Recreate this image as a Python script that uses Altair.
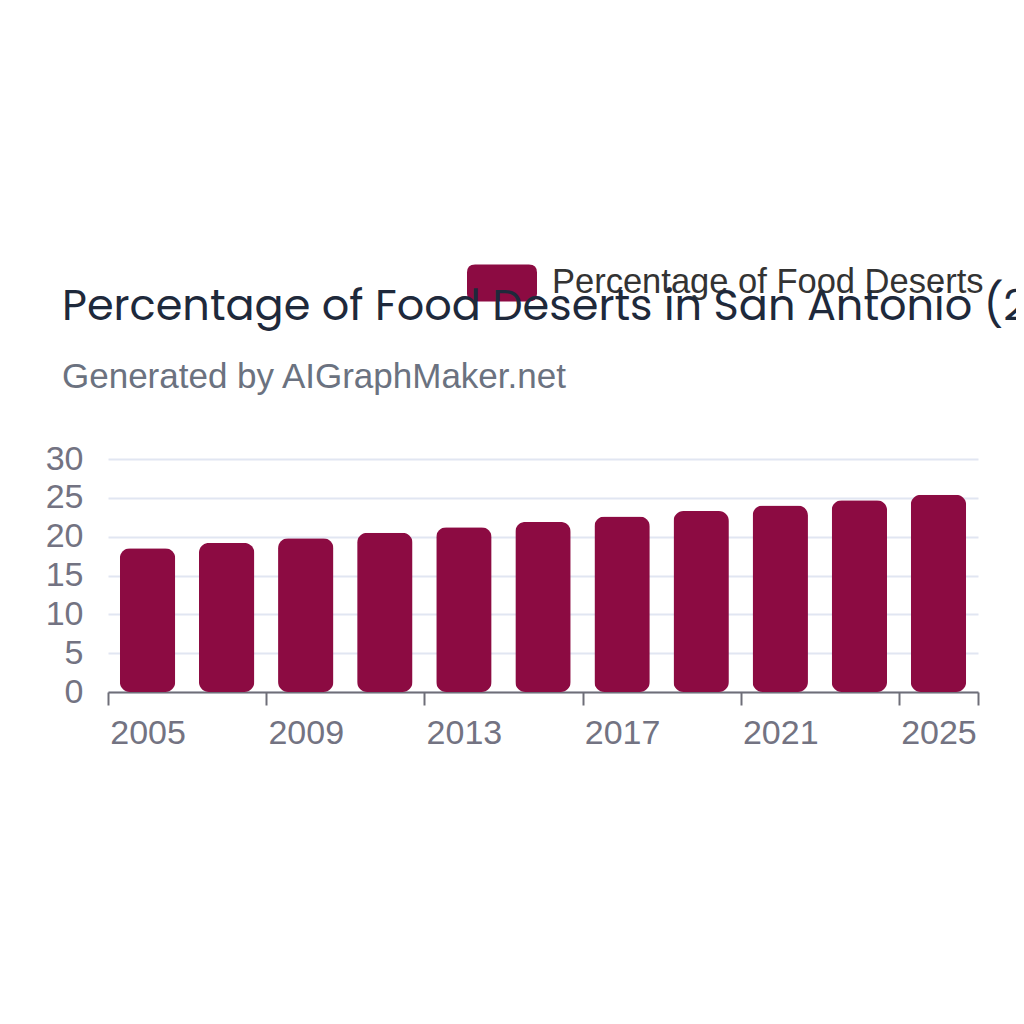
import altair as alt
import pandas as pd

# ---- data ----
years = [2005, 2007, 2009, 2011, 2013, 2015, 2017, 2019, 2021, 2023, 2025]
values = [18.5, 19.2, 19.8, 20.5, 21.2, 21.9, 22.6, 23.3, 24.0, 24.7, 25.4]
series_name = "Percentage of Food Deserts"
y_ticks = [0, 5, 10, 15, 20, 25, 30]
title_text = "Percentage of Food Deserts in San Antonio (2005-2025)"
subtitle_text = "Generated by AIGraphMaker.net"

df = pd.DataFrame({
    "year": years,
    "value": values,
    "series": [series_name] * len(years),
})

BAR = "#8C0B42"
AXIS_LINE = "#6e6e78"
LABEL = "#737382"

# rounded-rectangle legend swatch (unit box -1..1, wide and short)
legend_path = ("M-0.77,-0.53L0.77,-0.53Q1,-0.53 1,-0.3L1,0.3Q1,0.53 0.77,0.53"
               "L-0.77,0.53Q-1,0.53 -1,0.3L-1,-0.3Q-1,-0.53 -0.77,-0.53Z")

x_axis = alt.Axis(
    title=None,
    labelAngle=0,
    labelFont="Liberation Sans",
    labelFontSize=34,
    labelColor=LABEL,
    labelPadding=11,
    labelOverlap=False,
    labelExpr="(datum.value - 2005) % 4 == 0 ? datum.label : ''",
    tickBand="extent",
    tickSize=13,
    tickWidth=2,
    tickColor=AXIS_LINE,
    tickOpacity={
        "condition": {
            "test": "!isValid(datum.value) || datum.value == 2025 || (datum.value - 2007) % 4 == 0",
            "value": 1,
        },
        "value": 0,
    },
    domainColor=AXIS_LINE,
    domainWidth=2,
    grid=False,
)

y_axis = alt.Axis(
    title=None,
    values=y_ticks,
    labelFont="Liberation Sans",
    labelFontSize=34,
    labelColor=LABEL,
    labelPadding=25,
    ticks=False,
    tickSize=0,
    domain=False,
    grid=True,
    gridColor="#e1e6f2",
    gridWidth=2,
)

legend = alt.Legend(
    title=None,
    orient="none",
    legendX=359,
    legendY=-211,
    direction="horizontal",
    symbolType=legend_path,
    symbolSize=4900,
    symbolStrokeWidth=0,
    symbolOpacity=1,
    labelFont="Liberation Sans",
    labelFontSize=34.5,
    labelColor="#333333",
    labelOffset=15,
    labelLimit=1000,
    padding=0,
)

title = alt.TitleParams(
    text=title_text,
    subtitle=subtitle_text,
    anchor="start",
    frame="group",
    dx=-46,
    offset=-147,
    font="Poppins, Open Sans, sans-serif",
    fontSize=43,
    fontWeight="normal",
    color="#1e293b",
    subtitleFont="Liberation Sans",
    subtitleFontSize=35,
    subtitleColor="#6b7280",
    subtitlePadding=31,
)

chart = (
    alt.Chart(df)
    .mark_bar(cornerRadius=10, width=alt.RelativeBandSize(0.7))
    .encode(
        x=alt.X("year:O", scale=alt.Scale(paddingInner=0, paddingOuter=0), axis=x_axis),
        y=alt.Y("value:Q", scale=alt.Scale(domain=[0, 30], nice=False), axis=y_axis),
        color=alt.Color("series:N", scale=alt.Scale(range=[BAR]), legend=legend),
    )
    .properties(
        width=870,
        height=233,
        title=title,
        padding={"left": 100, "top": 451, "right": 38, "bottom": 300},
        autosize=alt.AutoSizeParams(type="none"),
        background="white",
    )
    .configure_view(stroke=None)
)

chart.save("out.html", embed_options={"renderer": "svg", "actions": False})
